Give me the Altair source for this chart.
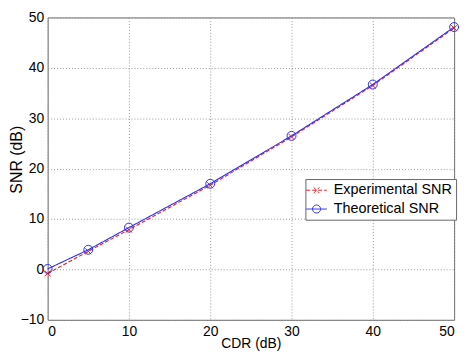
import altair as alt
import pandas as pd

cdr = [0, 5, 10, 20, 30, 40, 50]
snr_exp = [-0.8, 3.6, 7.9, 16.7, 26.3, 36.5, 47.9]
snr_theo = [0.1, 3.9, 8.3, 17.0, 26.5, 36.7, 48.1]
series = ["Experimental SNR", "Theoretical SNR"]
colors = ["#e41e26", "#2d2df2"]
dashes = [[4, 2], [1, 0]]
x_ticks = [0, 10, 20, 30, 40, 50]
y_ticks = [-10, 0, 10, 20, 30, 40, 50]

df = pd.DataFrame({
    "cdr": cdr + cdr,
    "snr": snr_exp + snr_theo,
    "series": [series[0]] * len(cdr) + [series[1]] * len(cdr),
})

FONT = "Liberation Sans"

xenc = alt.X("cdr:Q", scale=alt.Scale(domain=[0, 50], nice=False),
             axis=alt.Axis(values=x_ticks, title="CDR (dB)", labelPadding=5,
                           titleY=24, titleBaseline="middle", titleFontSize=14))
yenc = alt.Y("snr:Q", scale=alt.Scale(domain=[-10, 50], nice=False),
             axis=alt.Axis(values=y_ticks, title="SNR (dB)", labelPadding=4,
                           titleX=-31, titleY=143, titleBaseline="middle", titleFontSize=16))

cross_path = "M-1,-1L1,1M-1,1L1,-1"
exp_path = "M-1.6,0L1.6,0M-0.45,-0.45L0.45,0.45M-0.45,0.45L0.45,-0.45"
theo_path = "M-1.6,0L1.6,0M-0.62,0A0.62,0.62,0,1,1,0.62,0A0.62,0.62,0,1,1,-0.62,0Z"

legend = alt.Legend(
    title=None, orient="none", legendX=260, legendY=163,
    symbolSize=169, symbolStrokeWidth=1, symbolFillColor="transparent",
    labelFont=FONT, labelFontSize=14.5, labelColor="black", labelOffset=10,
    strokeColor="#666", fillColor="white", padding=4, rowPadding=4,
)


def series_layers(i, marker, msize):
    base = alt.Chart(df).transform_filter(alt.datum.series == series[i])
    line = base.mark_line(strokeWidth=1.1, color=colors[i], strokeDash=dashes[i]).encode(x=xenc, y=yenc)
    pts = base.mark_point(filled=False, strokeWidth=1, opacity=1, shape=marker,
                          size=msize, color=colors[i]).encode(x=xenc, y=yenc)
    return [line, pts]


legend_layer = alt.Chart(df).transform_filter("false").mark_point(
    filled=False, strokeWidth=1, opacity=1, size=169
).encode(
    x=xenc, y=yenc,
    color=alt.Color("series:N", scale=alt.Scale(domain=series, range=colors), legend=legend),
    shape=alt.Shape("series:N", scale=alt.Scale(domain=series, range=[exp_path, theo_path]), legend=legend),
    strokeDash=alt.StrokeDash("series:N", scale=alt.Scale(domain=series, range=dashes), legend=legend),
)

layers = series_layers(0, cross_path, 36) + series_layers(1, "circle", 81) + [legend_layer]

chart = alt.layer(*layers).properties(
    width=410, height=305,
    autosize=alt.AutoSizeParams(type="none"),
    padding={"left": 40, "top": 8, "right": 12, "bottom": 41},
    background="white",
).configure_view(stroke="#666", strokeWidth=1).configure_axis(
    grid=True, gridDash=[1, 2], gridColor="#999", gridWidth=1,
    domain=False, ticks=False,
    labelFont=FONT, labelFontSize=14, labelColor="black",
    titleFont=FONT, titleFontWeight="normal", titleColor="black",
)

chart.save("out.html", embed_options={"renderer": "svg", "actions": False})
